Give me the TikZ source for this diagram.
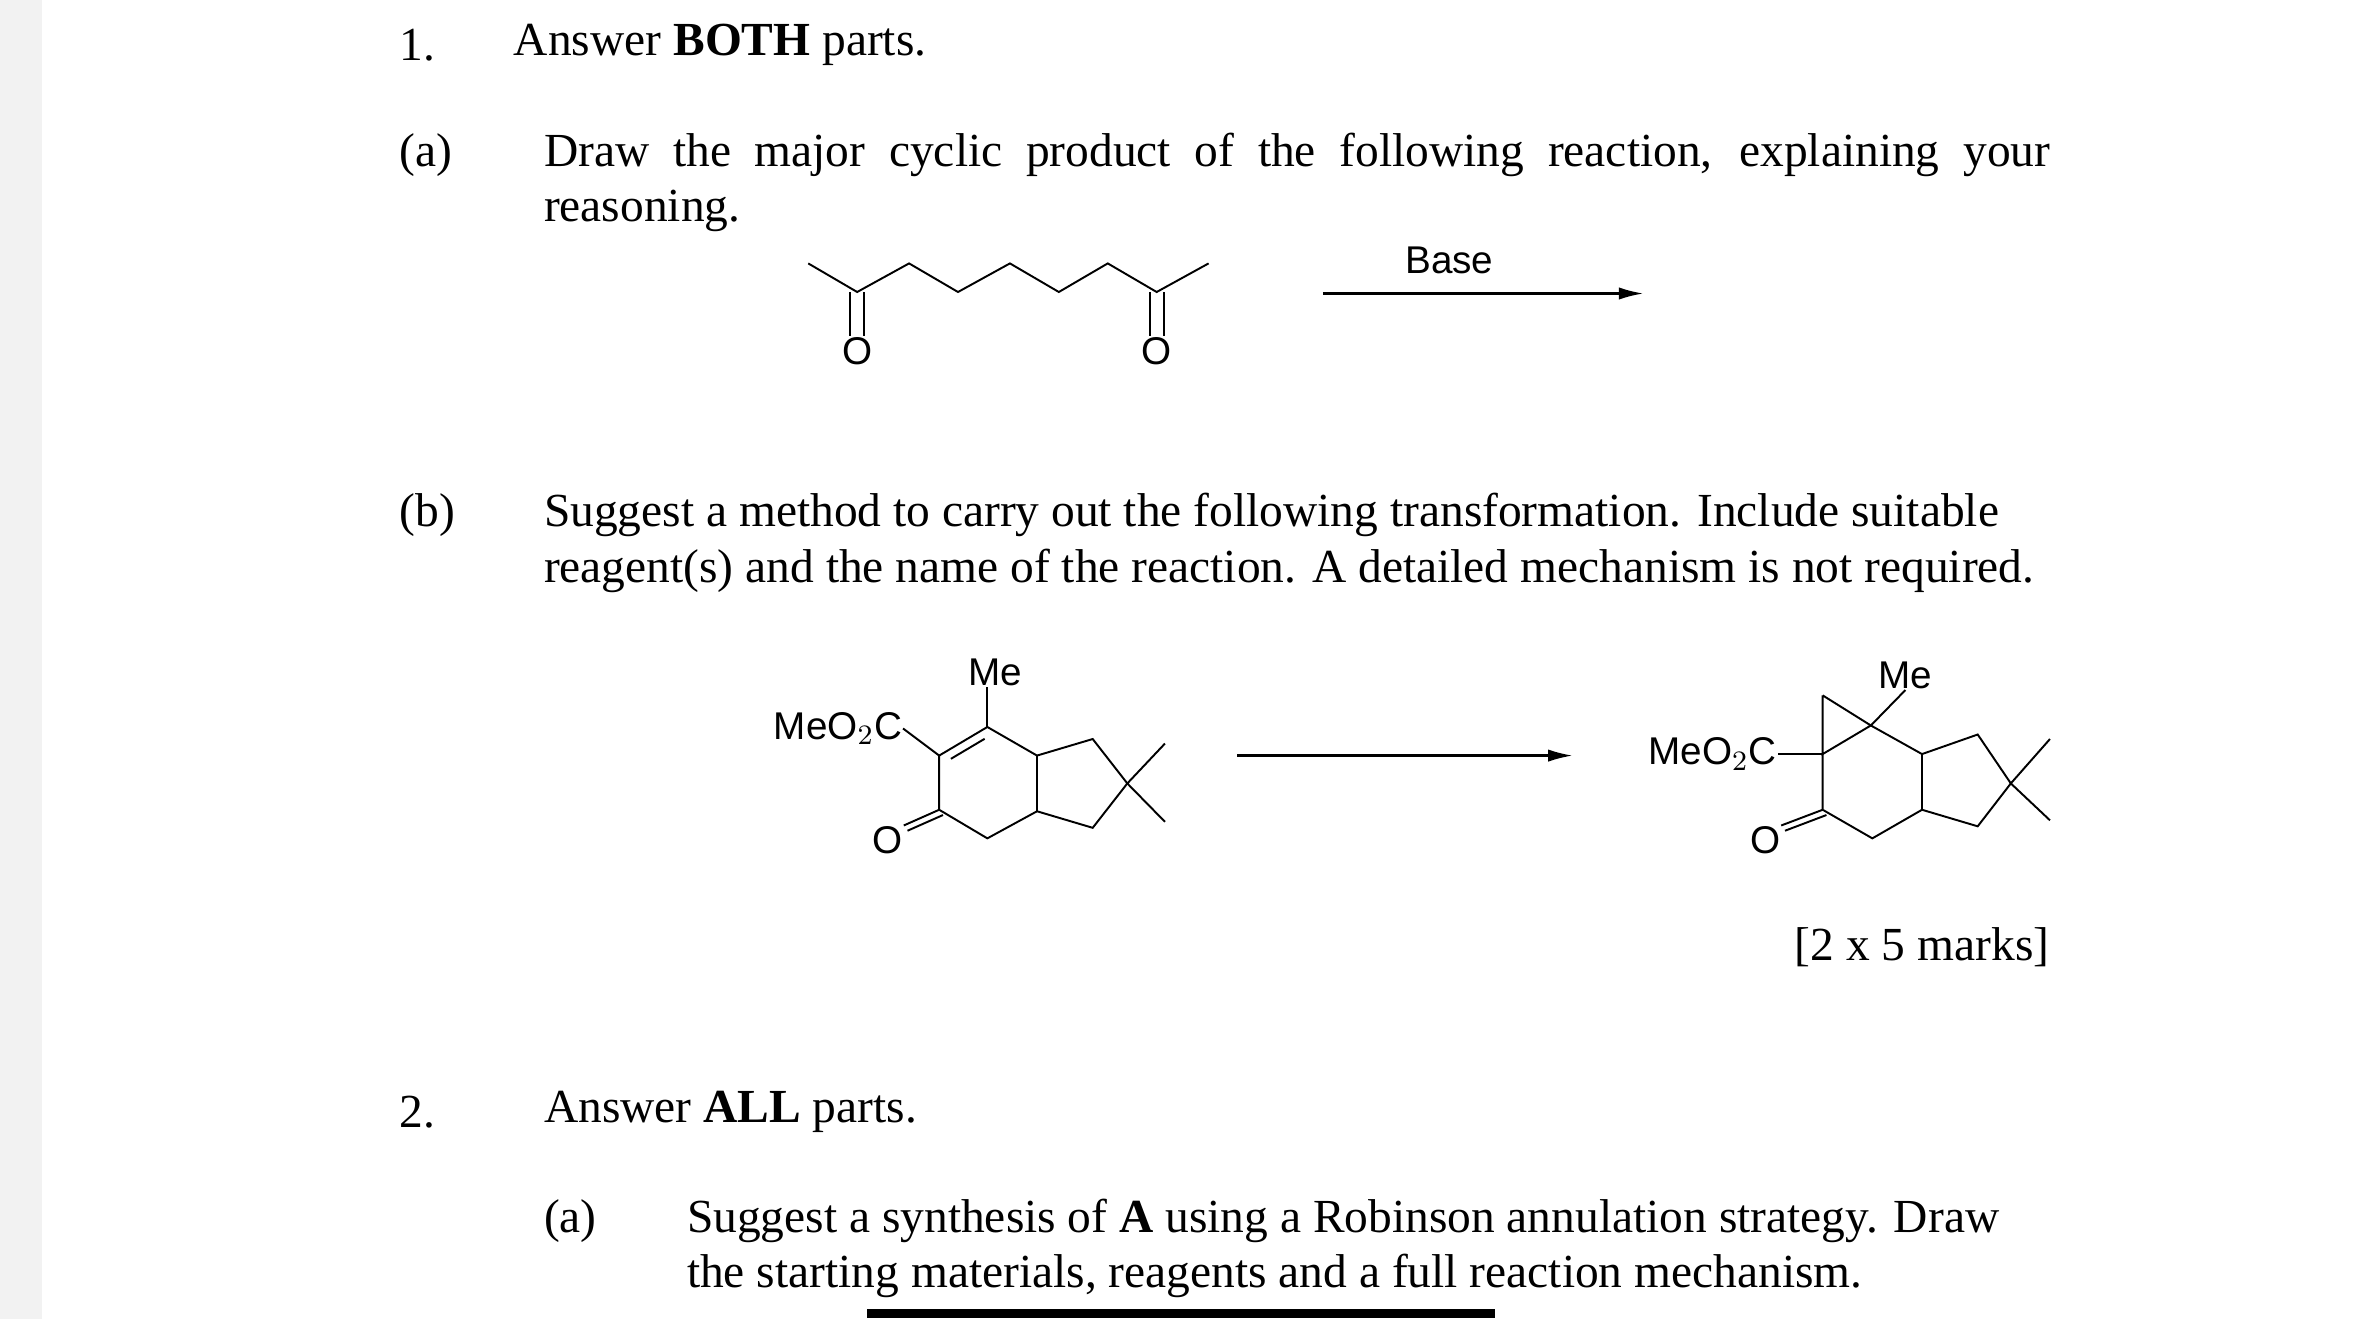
\documentclass[tikz,border=0pt]{standalone}
\usepackage{fontspec}
\setmainfont{Liberation Serif}
\newfontfamily\chemfont{Liberation Sans}
\usetikzlibrary{arrows.meta,calc}
\tikzset{
 txt/.style={inner sep=0pt, anchor=west, font=\fontsize{13.5}{15}\selectfont},
 lab/.style={inner sep=0pt, font=\chemfont\fontsize{11}{13}\selectfont},
 bond/.style={line width=0.55pt, line join=miter},
 rxn/.style={line width=0.7pt, -{Latex[length=7pt,width=3.5pt]}}
}
\begin{document}
\begin{tikzpicture}[x=0.1505mm,y=-0.1505mm]
\useasboundingbox (0,0) rectangle (1568,876.4);
\fill[black!5] (0,0) rectangle (28,876.4);
% texts
\node[txt] (n1) at (265,30) {1.};
\node[txt] (t1) at (341,30) {Answer \textbf{BOTH} parts.};
\node[txt] (a1) at (265,103) {(a)};
\node[txt] (ta1) at (361,103) {\hbox to 150.6mm{Draw the major cyclic product of the following reaction, explaining your}};
\node[txt] (ta2) at (361,140) {reasoning.};
\node[txt] (b1) at (265,342) {(b)};
\node[txt] (tb1) at (361,342) {Suggest a method to carry out the following transformation. Include suitable};
\node[txt] (tb2) at (361,379) {reagent(s) and the name of the reaction. A detailed mechanism is not required.};
\node[txt,anchor=east] (mk) at (1362,629) {[2 x 5 marks]};
\node[txt] (n2) at (265,739) {2.};
\node[txt] (t2) at (361,739) {Answer \textbf{ALL} parts.};
\node[txt] (a2) at (361,811) {(a)};
\node[txt] (ta3) at (456,811) {Suggest a synthesis of \textbf{A} using a Robinson annulation strategy. Draw};
\node[txt] (ta4) at (456,848) {the starting materials, reagents and a full reaction mechanism.};
\fill[black] (576,870) rectangle (993,876) ;
% molecule a
\coordinate (p1) at (537,175);
\coordinate (p2) at (569.5,194);
\coordinate (p3) at (604,175);
\coordinate (p4) at (636.5,194);
\coordinate (p5) at (671,175);
\coordinate (p6) at (703.5,194);
\coordinate (p7) at (736,175);
\coordinate (p8) at (768.5,194);
\coordinate (p9) at (803,175);
\draw[bond] (p1)--(p2)--(p3)--(p4)--(p5)--(p6)--(p7)--(p8)--(p9);
\node[lab] (oa) at (569.5,233) {O};
\node[lab] (ob) at (768.5,233) {O};
\draw[bond] ([xshift=-2]p2) -- ([xshift=-2]oa.north) ([xshift=2]p2) -- ([xshift=2]oa.north);
\draw[bond] ([xshift=-2]p8) -- ([xshift=-2]ob.north) ([xshift=2]p8) -- ([xshift=2]ob.north);
\coordinate (ra1) at (879,195); \coordinate (ra2) at (1092,195);
\draw[rxn] (ra1) -- (ra2);
\node[lab] (base) at (963,173) {Base};
% molecule b left
\coordinate (c4) at (656,483);
\coordinate (c3) at (624,502);
\coordinate (c2) at (624,538);
\coordinate (c1) at (656,557);
\coordinate (c6) at (689,539);
\coordinate (c5) at (689,502);
\coordinate (c7) at (726,491);
\coordinate (cq) at (749,520.5);
\coordinate (c8) at (726,550);
\coordinate (m1) at (774,494);
\coordinate (m2) at (774,546);
\node[lab] (me1) at (661,447) {Me};
\node[lab,anchor=east] (es1) at (600,484) {MeO$_2$C};
\node[lab] (o1) at (590,558) {O};
\draw[bond] (c4)--(c3)--(c2)--(c1)--(c6)--(c5)--(c4);
\draw[bond] (c5)--(c7)--(cq)--(c8)--(c6);
\draw[bond] (m1)--(cq)--(m2);
\draw[bond] (c4)--(c4|-me1.south);
\draw[bond] (c3)--(es1.east);
\draw[bond] ($(c3)!0.15!(c4)+(3,5)$) -- ($(c3)!0.85!(c4)+(3,5)$);
\draw[bond] (c2)--(o1.north east);
\draw[bond] ([shift={(2.5,3.5)}]c2)--([shift={(2.5,3.5)}]o1.north east);
\coordinate (rb1) at (822,502); \coordinate (rb2) at (1045,502);
\draw[rxn] (rb1) -- (rb2);
% right molecule
\coordinate (d0) at (1211,462);
\coordinate (dq) at (1243,482);
\coordinate (d3) at (1211,501);
\coordinate (d2) at (1211,538);
\coordinate (d1) at (1244,557);
\coordinate (d6) at (1277,538);
\coordinate (d5) at (1277,501);
\coordinate (d7) at (1314,488);
\coordinate (dqq) at (1336,520.5);
\coordinate (d8) at (1314,549);
\coordinate (n1m) at (1362,491);
\coordinate (n2m) at (1362,545);
\node[lab] (me2) at (1266,449) {Me};
\node[lab,anchor=east] (es2) at (1181,501) {MeO$_2$C};
\node[lab] (o2) at (1173,558) {O};
\draw[bond] (d0)--(dq)--(d3)--(d0);
\draw[bond] (dq)--(d5)--(d6)--(d1)--(d2)--(d3);
\draw[bond] (d5)--(d7)--(dqq)--(d8)--(d6);
\draw[bond] (n1m)--(dqq)--(n2m);
\draw[bond] (dq)--(me2.south);
\draw[bond] (d3)--(es2.east);
\draw[bond] (d2)--(o2.north east);
\draw[bond] ([shift={(2.5,3.5)}]d2)--([shift={(2.5,3.5)}]o2.north east);
\end{tikzpicture}
\end{document}
